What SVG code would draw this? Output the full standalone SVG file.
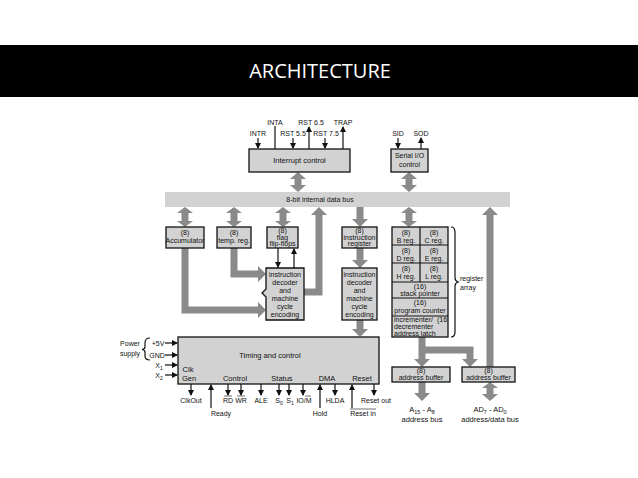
<svg xmlns="http://www.w3.org/2000/svg" width="638" height="478" viewBox="0 0 638 478">
<defs>
<style>
.b{fill:#d2d2d2;stroke:#111;stroke-width:1.3}
.t{font-family:"Liberation Sans",Arial,sans-serif;font-size:7px;fill:#111;text-anchor:middle}
.s{text-anchor:start}
.l{font-family:"Liberation Sans",Arial,sans-serif;font-size:7.5px;fill:#111;text-anchor:middle}
.g{fill:#8a8a8a}
.w{stroke:#111;stroke-width:1.2;fill:none}
</style>
<marker id="ah" markerWidth="6" markerHeight="6" refX="5" refY="3" orient="auto" markerUnits="userSpaceOnUse"><path d="M0,0 L6,3 L0,6 z" fill="#111"/></marker>
</defs>
<rect width="638" height="478" fill="#fff"/>
<rect x="0" y="45" width="638" height="52" fill="#000"/>
<text x="320" y="78" font-family="'Open Sans','Liberation Sans',sans-serif" font-size="20" fill="#fff" text-anchor="middle">ARCHITECTURE</text>

<g id="connectors">
<polygon class="g" points="298,172 306,179 301.5,179 301.5,185 306,185 298,192 290,185 294.5,185 294.5,179 290,179"/>
<polygon class="g" points="409,172 417,179 412.5,179 412.5,185 417,185 409,192 401,185 405.5,185 405.5,179 401,179"/>
<polygon class="g" points="185,207 193,213 188.5,213 188.5,221 193,221 185,227 177,221 181.5,221 181.5,213 177,213"/>
<polygon class="g" points="234,207 242,213 237.5,213 237.5,221 242,221 234,227 226,221 230.5,221 230.5,213 226,213"/>
<polygon class="g" points="283,207 291,213 286.5,213 286.5,221 291,221 283,227 275,221 279.5,221 279.5,213 275,213"/>
<polygon class="g" points="409,207 417,213 412.5,213 412.5,221 417,221 409,227 401,221 405.5,221 405.5,213 401,213"/>
<polygon class="g" points="356.5,207 363.5,207 363.5,219 368,219 360,227 352,219 356.5,219"/>
<polygon class="g" points="356.5,248 363.5,248 363.5,260 368,260 360,268 352,260 356.5,260"/>
<polygon class="g" points="356.5,320 363.5,320 363.5,329 368,329 360,337 352,329 356.5,329"/>
<polygon class="g" points="181.5,248 188.5,248 188.5,306.5 258,306.5 258,302 266,310 258,318 258,313.5 181.5,313.5"/>
<polygon class="g" points="230.5,248 237.5,248 237.5,270.5 258,270.5 258,266 266,274 258,282 258,277.5 230.5,277.5"/>
<polygon class="g" points="304,288.5 315.5,288.5 315.5,215 311,215 319,207 327,215 322.5,215 322.5,295.5 304,295.5"/>
<polygon class="g" points="418.5,337 425.5,337 425.5,346.5 473.5,346.5 473.5,359 478,359 470,367 462,359 466.5,359 466.5,353.5 425.5,353.5 425.5,359 430,359 422,367 414,359 418.5,359"/>
<polygon class="g" points="486.5,367 493.5,367 493.5,215 498,215 490,207 482,215 486.5,215"/>
<polygon class="g" points="418.5,382 425.5,382 425.5,393 430,393 422,401 414,393 418.5,393"/>
<polygon class="g" points="490,382 498,388 493.5,388 493.5,394 498,394 490,401 482,394 486.5,394 486.5,388 482,388"/>
<line class="w" x1="278" y1="248" x2="278" y2="267" marker-end="url(#ah)"/>
<line class="w" x1="294" y1="268" x2="294" y2="249" marker-end="url(#ah)"/>
<line class="w" x1="258" y1="138" x2="258" y2="148" marker-end="url(#ah)"/>
<line class="w" x1="275" y1="126" x2="275" y2="149"/>
<line class="w" x1="293" y1="138" x2="293" y2="148" marker-end="url(#ah)"/>
<line class="w" x1="309" y1="149" x2="309" y2="127" marker-end="url(#ah)"/>
<line class="w" x1="325" y1="138" x2="325" y2="148" marker-end="url(#ah)"/>
<line class="w" x1="343" y1="149" x2="343" y2="127" marker-end="url(#ah)"/>
<line class="w" x1="398" y1="138" x2="398" y2="148" marker-end="url(#ah)"/>
<line class="w" x1="421" y1="149" x2="421" y2="138" marker-end="url(#ah)"/>
<line class="w" x1="165" y1="343" x2="177" y2="343" marker-end="url(#ah)"/>
<line class="w" x1="165" y1="355" x2="177" y2="355" marker-end="url(#ah)"/>
<line class="w" x1="165" y1="365" x2="177" y2="365" marker-end="url(#ah)"/>
<line class="w" x1="165" y1="375" x2="177" y2="375" marker-end="url(#ah)"/>
<line class="w" x1="191" y1="384" x2="191" y2="395" marker-end="url(#ah)"/>
<line class="w" x1="211" y1="408" x2="211" y2="385" marker-end="url(#ah)"/>
<line class="w" x1="228" y1="384" x2="228" y2="395" marker-end="url(#ah)"/>
<line class="w" x1="241" y1="384" x2="241" y2="395" marker-end="url(#ah)"/>
<line class="w" x1="261" y1="384" x2="261" y2="395" marker-end="url(#ah)"/>
<line class="w" x1="279" y1="384" x2="279" y2="395" marker-end="url(#ah)"/>
<line class="w" x1="289" y1="384" x2="289" y2="395" marker-end="url(#ah)"/>
<line class="w" x1="303" y1="384" x2="303" y2="395" marker-end="url(#ah)"/>
<line class="w" x1="320" y1="408" x2="320" y2="385" marker-end="url(#ah)"/>
<line class="w" x1="335" y1="384" x2="335" y2="395" marker-end="url(#ah)"/>
<line class="w" x1="352" y1="408" x2="352" y2="385" marker-end="url(#ah)"/>
<line class="w" x1="374" y1="384" x2="374" y2="395" marker-end="url(#ah)"/>
</g>

<g id="pins">
<text class="t" x="275" y="125">INTA</text>
<text class="t" x="311" y="125">RST 6.5</text>
<text class="t" x="343" y="125">TRAP</text>
<text class="t" x="258" y="136">INTR</text>
<text class="t" x="293" y="136">RST 5.5</text>
<text class="t" x="326" y="136">RST 7.5</text>
<text class="t" x="398" y="136">SID</text>
<text class="t" x="421" y="136">SOD</text>
<text class="t" x="191" y="403">ClkOut</text>
<text class="t" x="221" y="416">Ready</text>
<text class="t" x="228" y="403">RD</text><line x1="224" y1="396" x2="232" y2="396" stroke="#111" stroke-width="0.6"/>
<text class="t" x="241" y="403">WR</text><line x1="237" y1="396" x2="245" y2="396" stroke="#111" stroke-width="0.6"/>
<text class="t" x="261" y="403">ALE</text>
<text class="t" x="279" y="403">S<tspan font-size="5" dy="1.5">0</tspan></text>
<text class="t" x="290" y="403">S<tspan font-size="5" dy="1.5">1</tspan></text>
<text class="t" x="304" y="403">IO/M</text><line x1="305" y1="396" x2="311" y2="396" stroke="#111" stroke-width="0.6"/>
<text class="t" x="320" y="416">Hold</text>
<text class="t" x="335" y="403">HLDA</text>
<text class="t" x="363" y="416">Reset in</text><line x1="350" y1="409" x2="376" y2="409" stroke="#111" stroke-width="0.6"/>
<text class="t" x="376" y="403">Reset out</text>
<text class="t" x="130" y="346">Power</text>
<text class="t" x="130" y="356">supply</text>
<path d="M150,338 Q145,338 145,343 L145,347 Q145,349 142,349.5 Q145,350 145,352 L145,356 Q145,360 150,360" class="w" stroke-width="0.9"/>
<text class="t" x="158" y="346">+5V</text>
<text class="t" x="157" y="358">GND</text>
<text class="t" x="159" y="368">X<tspan font-size="5" dy="1.5">1</tspan></text>
<text class="t" x="159" y="378">X<tspan font-size="5" dy="1.5">2</tspan></text>
<text class="l" x="422" y="412">A<tspan font-size="5.5" dy="1.5">15</tspan><tspan dy="-1.5"> - A</tspan><tspan font-size="5.5" dy="1.5">8</tspan></text>
<text class="l" x="422" y="422">address bus</text>
<text class="l" x="490" y="412">AD<tspan font-size="5.5" dy="1.5">7</tspan><tspan dy="-1.5"> - AD</tspan><tspan font-size="5.5" dy="1.5">0</tspan></text>
<text class="l" x="490" y="422">address/data bus</text>
<path d="M451,227 Q455,227 455,232 L455,278 Q455,281 458,282 Q455,283 455,286 L455,332 Q455,337 451,337" class="w" stroke-width="0.9"/>
<text class="t s" x="460" y="281">register</text>
<text class="t s" x="460" y="290">array</text>
</g>

<g id="interrupt"><rect class="b" x="249" y="149" width="101" height="23"/><text class="l" x="299.5" y="163">Interrupt control</text></g>
<g id="serial"><rect class="b" x="391" y="149" width="37" height="23"/><text class="t" x="409.5" y="158">Serial I/O</text><text class="t" x="409.5" y="167">control</text></g>
<g id="bus"><rect x="165" y="192" width="345" height="15" fill="#d2d2d2"/><text class="t" x="320" y="202">8-bit internal data bus</text></g>
<g id="acc"><rect class="b" x="166" y="227" width="38" height="21"/><text class="t" x="185" y="235">(8)</text><text class="t" x="185" y="243">Accumulator</text></g>
<g id="temp"><rect class="b" x="217" y="227" width="34" height="21"/><text class="t" x="234" y="235">(8)</text><text class="t" x="234" y="243">temp. reg.</text></g>
<g id="flag"><rect class="b" x="267" y="227" width="31" height="21"/><text class="t" x="282.5" y="233">(8)</text><text class="t" x="282.5" y="239.5">flag</text><text class="t" x="282.5" y="246">flip-flops</text></g>
<g id="ir"><rect class="b" x="342" y="227" width="35" height="21"/><text class="t" x="359.5" y="233">(8)</text><text class="t" x="359.5" y="239.5">instruction</text><text class="t" x="359.5" y="246">register</text></g>
<g id="dec1"><path class="b" d="M266,268 L304,268 L304,320 L266,320 L266,297 L262,293 L266,289 Z"/>
<text class="t" x="285" y="277">instruction</text><text class="t" x="285" y="285">decoder</text><text class="t" x="285" y="293">and</text><text class="t" x="285" y="301">machine</text><text class="t" x="285" y="309">cycle</text><text class="t" x="285" y="317">encoding</text></g>
<g id="dec2"><rect class="b" x="342" y="268" width="35" height="52"/>
<text class="t" x="359.5" y="277">instruction</text><text class="t" x="359.5" y="285">decoder</text><text class="t" x="359.5" y="293">and</text><text class="t" x="359.5" y="301">machine</text><text class="t" x="359.5" y="309">cycle</text><text class="t" x="359.5" y="317">encoding</text></g>
<g id="regarray">
<rect class="b" x="392" y="227" width="56" height="110"/>
<line class="w" x1="392" y1="245" x2="448" y2="245"/><line class="w" x1="392" y1="263" x2="448" y2="263"/><line class="w" x1="392" y1="282" x2="448" y2="282"/><line class="w" x1="392" y1="298" x2="448" y2="298"/><line class="w" x1="392" y1="316" x2="448" y2="316"/>
<line class="w" x1="420" y1="227" x2="420" y2="282"/>
<text class="t" x="406" y="235">(8)</text><text class="t" x="406" y="243">B reg.</text>
<text class="t" x="434" y="235">(8)</text><text class="t" x="434" y="243">C reg.</text>
<text class="t" x="406" y="253">(8)</text><text class="t" x="406" y="261">D reg.</text>
<text class="t" x="434" y="253">(8)</text><text class="t" x="434" y="261">E reg.</text>
<text class="t" x="406" y="271">(8)</text><text class="t" x="406" y="279">H reg.</text>
<text class="t" x="434" y="271">(8)</text><text class="t" x="434" y="279">L reg.</text>
<text class="t" x="420" y="289">(16)</text><text class="t" x="420" y="296">stack pointer</text>
<text class="t" x="420" y="305">(16)</text><text class="t" x="420" y="313">program counter</text>
<text class="t s" x="394" y="322" font-size="6.5">incrementer/</text><text class="t s" x="437" y="322" font-size="6.5">(16</text>
<text class="t s" x="394" y="329" font-size="6.5">decrementer</text><text class="t s" x="394" y="336" font-size="6.5">address latch</text>
</g>
<g id="timing"><rect class="b" x="178" y="337" width="201" height="47"/>
<text class="l" x="270" y="358">Timing and control</text>
<text class="l" x="188" y="372">Clk</text><text class="l" x="189" y="381">Gen</text>
<text class="l" x="235" y="381">Control</text><text class="l" x="282" y="381">Status</text><text class="l" x="327" y="381">DMA</text><text class="l" x="362" y="381">Reset</text></g>
<g id="abuf1"><rect class="b" x="392" y="367" width="58" height="15"/><text class="t" x="421" y="373">(8)</text><text class="t" x="421" y="380">address buffer</text></g>
<g id="abuf2"><rect class="b" x="462" y="367" width="53" height="15"/><text class="t" x="488.5" y="373">(8)</text><text class="t" x="488.5" y="380">address buffer</text></g>
</svg>
